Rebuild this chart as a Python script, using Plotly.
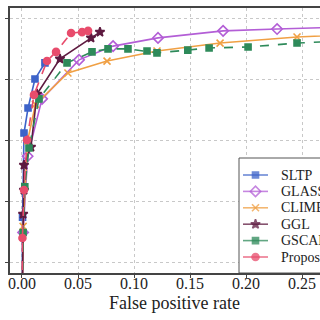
import plotly.graph_objects as go

# Data
sltp_x = [0.0, 0.0005, 0.0018, 0.0054, 0.0116, 0.0205]
sltp_y = [0.0, 0.35, 0.626, 0.708, 0.803, 0.856]

glasso_x = [0.0, 0.001, 0.005, 0.0179, 0.0509, 0.0813, 0.1214, 0.1795, 0.2277, 0.30]
glasso_y = [0.0, 0.30, 0.55, 0.738, 0.866, 0.911, 0.938, 0.961, 0.967, 0.975]

clime_x = [0.0, 0.001, 0.005, 0.012, 0.041, 0.0759, 0.1205, 0.1768, 0.2455, 0.30]
clime_y = [0.0, 0.32, 0.60, 0.72, 0.823, 0.862, 0.895, 0.921, 0.941, 0.95]

ggl_x = [0.0, 0.001, 0.0018, 0.0018, 0.008, 0.0134, 0.0339, 0.0616, 0.0696]
ggl_y = [0.0, 0.36, 0.439, 0.521, 0.580, 0.754, 0.869, 0.938, 0.957]

gscad_x = [0.0, 0.001, 0.0025, 0.00625, 0.0152, 0.0402, 0.0625, 0.0768, 0.0946,
           0.1116, 0.1205, 0.148, 0.167, 0.2018, 0.2455, 0.30]
gscad_y = [0.0, 0.30, 0.45, 0.577, 0.738, 0.856, 0.892, 0.902, 0.902,
           0.895, 0.889, 0.898, 0.905, 0.908, 0.921, 0.93]

prop_x = [0.0, 0.0004, 0.0018, 0.0045, 0.0107, 0.0223, 0.0304, 0.0438, 0.0536, 0.059]
prop_y = [0.0, 0.282, 0.439, 0.603, 0.751, 0.862, 0.892, 0.954, 0.957, 0.961]

yticks = [0.2, 0.4, 0.6, 0.8, 1.0]
xticks = [0.0, 0.05, 0.10, 0.15, 0.20, 0.25]
xticklabels = ["0.00", "0.05", "0.10", "0.15", "0.20", "0.25"]

series = [
    ("SLTP", sltp_x, sltp_y, "#3d63c9", "square", "solid", 6),
    ("GLASSO", glasso_x, glasso_y, "#b35ed6", "diamond-open", "solid", 8),
    ("CLIME", clime_x, clime_y, "#f0a044", "x-thin-open", "solid", 7),
    ("GGL", ggl_x, ggl_y, "#5e1a40", "star", "solid", 7),
    ("GSCAD", gscad_x, gscad_y, "#2e8a5a", "square", "dash", 6),
    ("Proposed", prop_x, prop_y, "#e84c6c", "circle", "dash", 7),
]

XR = [-0.0107, 0.266]
YR = [0.167, 1.036]

serif = "Liberation Serif"
fig = go.Figure()
for name, xs, ys, col, sym, dash, size in series:
    fig.add_trace(go.Scatter(
        x=xs, y=ys, name=name, mode="lines+markers", showlegend=False,
        line=dict(color=col, width=1.6, dash=dash),
        marker=dict(symbol=sym, size=size, color=col,
                    line=dict(color=col, width=1.6)),
    ))

# Hand-drawn legend: keys on an overlay axis measured in figure pixels
LEG_LEFT, LEG_TOP = 239, 158
ROW0, ROW_STEP = 175, 16.4
KEY_X0, KEY_X1, KEY_MID, TEXT_X = 243, 268, 255.5, 279

def px_to_x(px):
    return XR[0] + (px - 10) / 310 * (XR[1] - XR[0])

def py_to_y(py):
    return YR[1] - (py - 8) / 265 * (YR[1] - YR[0])

shapes = [dict(type="rect", xref="x", yref="y", x0=px_to_x(LEG_LEFT), x1=0.4,
               y0=py_to_y(LEG_TOP), y1=YR[0], fillcolor="white",
               line=dict(color="#555", width=1), layer="between")]
annotations = []
for i, (name, xs, ys, col, sym, dash, size) in enumerate(series):
    ry = ROW0 + i * ROW_STEP
    fig.add_trace(go.Scatter(
        x=[KEY_X0, KEY_X1], y=[ry, ry], xaxis="x2", yaxis="y2", mode="lines",
        showlegend=False, hoverinfo="skip", opacity=0.75,
        line=dict(color=col, width=1.6)))
    fig.add_trace(go.Scatter(
        x=[KEY_MID], y=[ry], xaxis="x2", yaxis="y2", mode="markers",
        showlegend=False, hoverinfo="skip", opacity=0.75,
        marker=dict(symbol=sym, size=size, color=col,
                    line=dict(color=col, width=1.6))))
    annotations.append(dict(text=name, x=TEXT_X, y=ry, xref="x2", yref="y2",
                            xanchor="left", yanchor="middle", showarrow=False,
                            font=dict(family=serif, size=14, color="#222")))

annotations.append(dict(text="False positive rate", x=0.532, y=-0.068,
                        xref="paper", yref="paper", xanchor="center", yanchor="top",
                        showarrow=False,
                        font=dict(family=serif, size=18, color="#222")))

fig.update_layout(
    width=320, height=320,
    margin=dict(l=10, r=0, t=8, b=47, autoexpand=False),
    paper_bgcolor="white", plot_bgcolor="white",
    font=dict(family=serif, color="#222"),
    showlegend=False,
    xaxis=dict(range=XR, tickvals=xticks, ticktext=xticklabels,
               showgrid=True, gridcolor="#c8c8c8", griddash="dot", gridwidth=1,
               showline=True, linecolor="#444", linewidth=1.5, mirror=True,
               ticks="outside", ticklen=3, tickcolor="#444", ticklabelstandoff=-8,
               tickfont=dict(family=serif, size=16, color="#222"),
               zeroline=False),
    yaxis=dict(range=YR, tickvals=yticks, showticklabels=False,
               showgrid=True, gridcolor="#c8c8c8", griddash="dot", gridwidth=1,
               showline=True, linecolor="#444", linewidth=1.5, mirror=True,
               ticks="outside", ticklen=3, tickcolor="#444",
               zeroline=False),
    xaxis2=dict(overlaying="x", range=[10, 320], visible=False, fixedrange=True),
    yaxis2=dict(overlaying="y", range=[273, 8], visible=False, fixedrange=True),
    shapes=shapes,
    annotations=annotations,
)

fig.write_html("out.html")
